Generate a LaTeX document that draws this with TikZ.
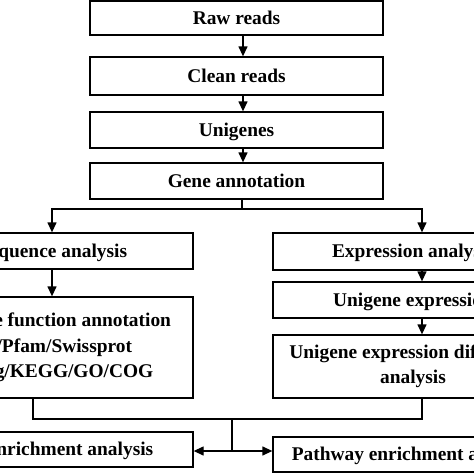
\documentclass[tikz,border=0pt]{standalone}
\usepackage{fontspec}
\setmainfont{Liberation Serif}
\usetikzlibrary{arrows.meta}
\begin{document}
\begin{tikzpicture}[x=1pt,y=-1pt,
  box/.style={draw=black,line width=1.3pt,fill=white,inner sep=0pt,align=center,
    font=\fontsize{19.4}{25.5}\selectfont\bfseries},
  one/.style={text height=13pt,text depth=1pt},
  arr/.style={line width=1.3pt,-{Triangle[length=10pt,width=9pt]}},
  ln/.style={line width=1.3pt}]
\useasboundingbox (0,0) rectangle (474,474);
\fill[white] (0,0) rectangle (474,474);
% top column
\node[box,one,minimum width=293pt,minimum height=34pt] (raw) at (236.5,18) {Raw reads};
\node[box,one,minimum width=293pt,minimum height=38pt] (clean) at (236.5,76) {Clean reads};
\node[box,one,minimum width=293pt,minimum height=36pt] (uni) at (236.5,130) {Unigenes};
\node[box,one,minimum width=293pt,minimum height=36pt] (gene) at (236.5,181) {Gene annotation};
% left column
\node[box,one,minimum width=280pt,minimum height=36pt] (seq) at (53,251) {Sequence analysis};
\node[box,minimum width=280pt,minimum height=101pt] (func) at (53,347.5) {Unigene function annotation\\Nr/Pfam/Swissprot\\String/KEGG/GO/COG};
\node[box,one,minimum width=280pt,minimum height=35pt] (goenr) at (53,449.5) {GO enrichment analysis};
% right column
\node[box,one,minimum width=280pt,minimum height=37pt] (expr) at (413,251.5) {Expression analysis};
\node[box,one,minimum width=280pt,minimum height=36pt] (ugexp) at (413,300) {Unigene expression};
\node[box,minimum width=280pt,minimum height=63pt] (diff) at (413,366.5) {Unigene expression difference\\analysis};
\node[box,one,minimum width=280pt,minimum height=35pt] (path) at (413,454.5) {Pathway enrichment analysis};
% helper coordinates
\coordinate (spine) at (243,0);
\coordinate (br) at (242,209);
\coordinate (lx) at (52,0);
\coordinate (rx) at (422,0);
\coordinate (fx) at (33,0);
\coordinate (j) at (232,419);
\coordinate (m) at (232,451);
% connectors
\draw[arr] (raw.south -| spine) -- (clean.north -| spine);
\draw[arr] (clean.south -| spine) -- (uni.north -| spine);
\draw[arr] (uni.south -| spine) -- (gene.north -| spine);
\draw[ln] (gene.south -| br) -- (br);
\draw[arr] (br) -| (seq.north -| lx);
\draw[arr] (br) -| (expr.north -| rx);
\draw[arr] (seq.south -| lx) -- (func.north -| lx);
\draw[arr] (expr.south -| rx) -- (ugexp.north -| rx);
\draw[arr] (ugexp.south -| rx) -- (diff.north -| rx);
\draw[ln] (func.south -| fx) |- (j);
\draw[ln] (diff.south -| rx) |- (j);
\draw[ln] (j) -- (m);
\draw[arr] (m) -- (goenr.east |- m);
\draw[arr] (m) -- (path.west |- m);
\end{tikzpicture}
\end{document}
